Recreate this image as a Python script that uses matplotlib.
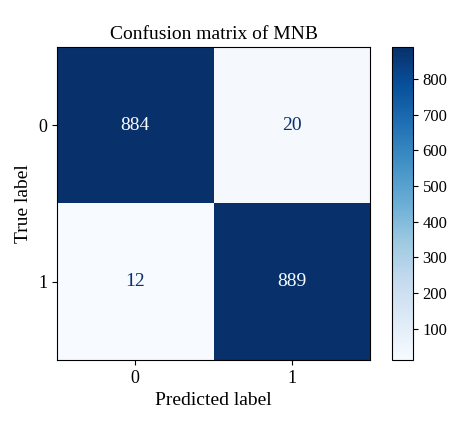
import matplotlib
matplotlib.use("Agg")
import matplotlib.pyplot as plt
import numpy as np

plt.rcParams['font.family'] = ['Liberation Serif', 'DejaVu Serif']

labels = ['0', '1']
cm = np.array([[884, 20],
               [12, 889]])

fig = plt.figure(figsize=(4.74, 4.36), dpi=100)
ax = fig.add_axes([0.120, 0.174, 0.661, 0.718])
cax = fig.add_axes([0.827, 0.174, 0.044, 0.718])

cmap = plt.get_cmap('Blues')
im = ax.imshow(cm, cmap=cmap, vmin=cm.min(), vmax=cm.max(), aspect='auto')

thresh = (cm.max() + cm.min()) / 2
for i in range(cm.shape[0]):
    for j in range(cm.shape[1]):
        color = cmap(0.0) if cm[i, j] > thresh else cmap(1.0)
        ax.text(j, i, str(cm[i, j]), ha='center', va='center', color=color, fontsize=14)

ax.set_xticks(range(len(labels)))
ax.set_xticklabels(labels, fontsize=13)
ax.set_yticks(range(len(labels)))
ax.set_yticklabels(labels, fontsize=13)
ax.set_xlabel('Predicted label', fontsize=14)
ax.set_ylabel('True label', fontsize=14)
ax.set_title('Confusion matrix of MNB', fontsize=14)

cb = fig.colorbar(im, cax=cax)
cb.set_ticks(range(100, 900, 100))
cb.ax.tick_params(labelsize=12)

fig.savefig('out.png', dpi=100)
